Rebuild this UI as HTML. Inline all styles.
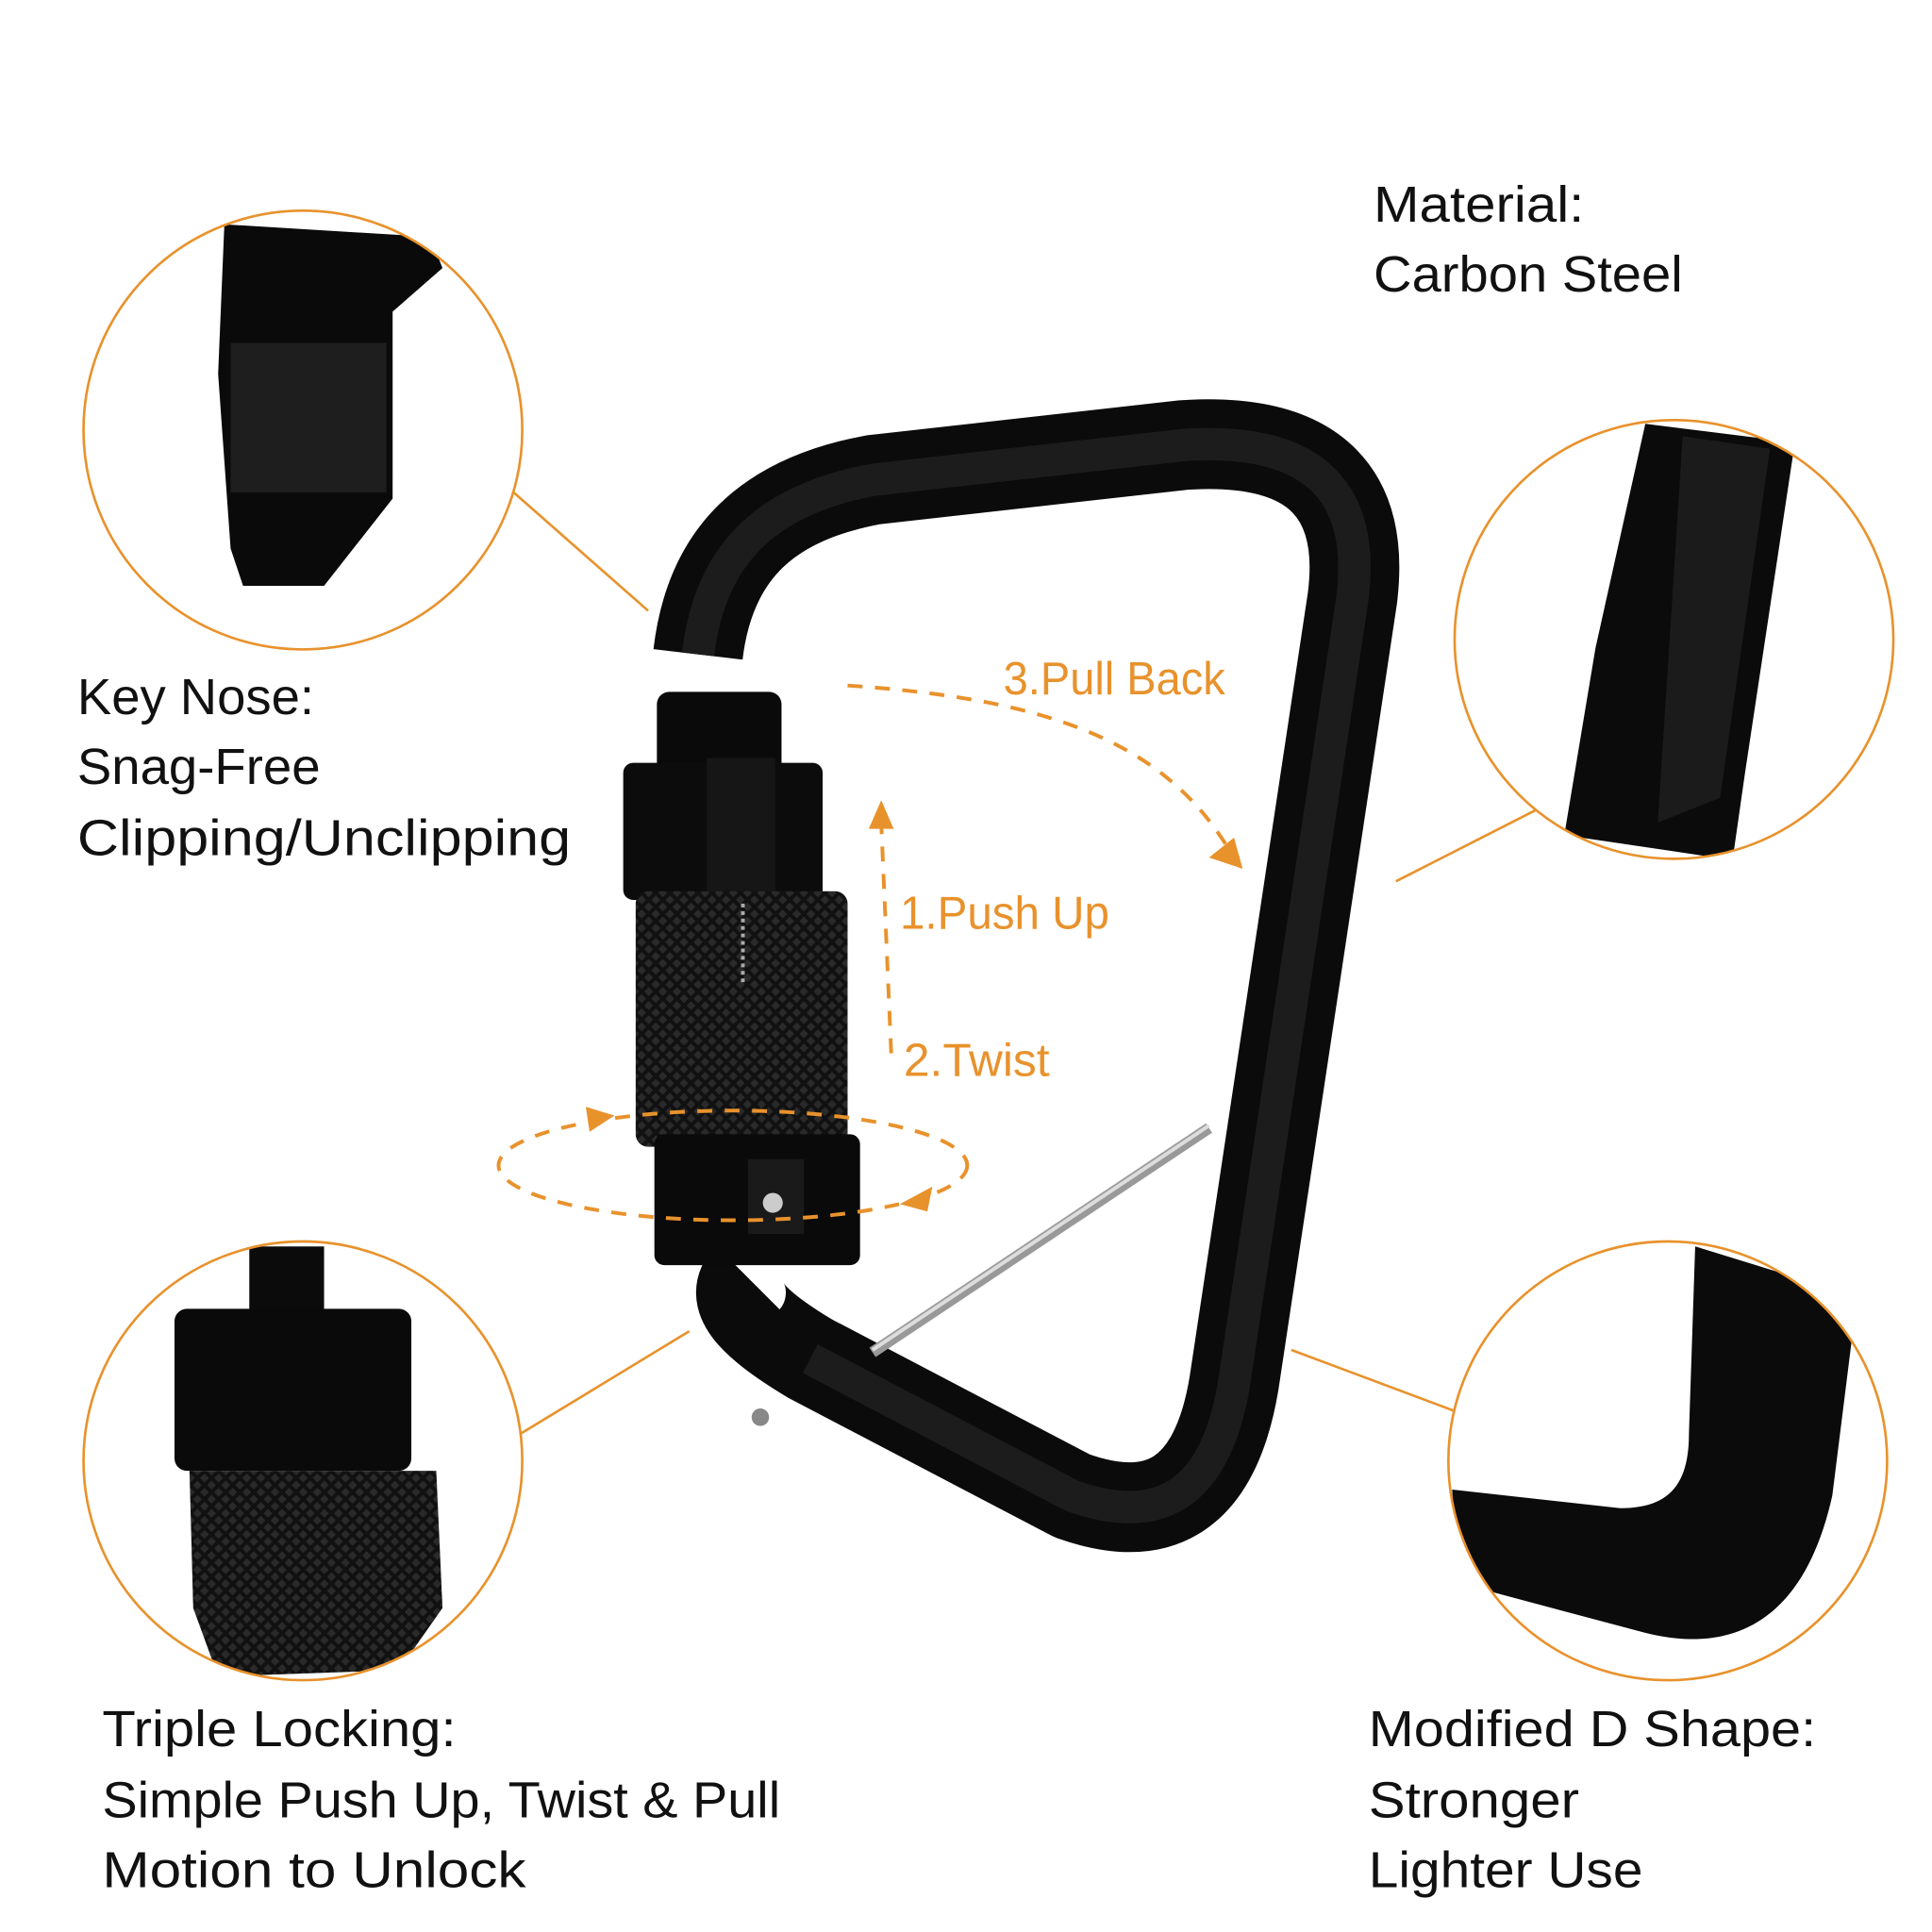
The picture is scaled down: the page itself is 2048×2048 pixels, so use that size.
<!DOCTYPE html>
<html><head><style>html,body{margin:0;padding:0;background:#fff}svg{display:block}</style></head>
<body>
<svg width="2048" height="2048" viewBox="0 0 1550 1550" xmlns="http://www.w3.org/2000/svg" font-family="'Liberation Sans', sans-serif">
<defs>
<pattern id="kn" width="8" height="8" patternUnits="userSpaceOnUse" patternTransform="rotate(45)">
<rect width="8" height="8" fill="#111"/><rect width="5" height="5" fill="#2a2a2a"/></pattern>
<clipPath id="c1"><circle cx="243" cy="345" r="176"/></clipPath>
<clipPath id="c2"><circle cx="1343" cy="513" r="176"/></clipPath>
<clipPath id="c3"><circle cx="243" cy="1172" r="176"/></clipPath>
<clipPath id="c4"><circle cx="1338" cy="1172" r="176"/></clipPath>
</defs>
<rect width="1550" height="1550" fill="#fff"/>
<!-- carabiner body -->
<path d="M560 525 C570 440 620 400 700 385 L950 357 C1060 350 1095 400 1085 480 L990 1110 C975 1200 930 1225 860 1200 L650 1090 C600 1060 585 1040 600 1025" fill="none" stroke="#0b0b0b" stroke-width="72" stroke-linejoin="round"/>
<path d="M560 525 C570 440 620 400 700 385 L950 357 C1060 350 1095 400 1085 480 L990 1110 C975 1200 930 1225 860 1200 L650 1090" fill="none" stroke="#1c1c1c" stroke-width="26"/>
<!-- wire -->
<line x1="700" y1="1085" x2="970" y2="905" stroke="#999" stroke-width="9"/>
<line x1="700" y1="1083" x2="970" y2="903" stroke="#ddd" stroke-width="3"/>
<circle cx="610" cy="1137" r="7" fill="#888"/>
<!-- gate -->
<rect x="527" y="555" width="100" height="80" rx="10" fill="#0a0a0a"/>
<rect x="500" y="612" width="160" height="110" rx="8" fill="#0c0c0c"/>
<rect x="567" y="608" width="55" height="115" fill="#161616"/>
<rect x="510" y="715" width="170" height="205" rx="10" fill="url(#kn)"/>
<rect x="525" y="910" width="165" height="105" rx="8" fill="#0a0a0a"/>
<rect x="600" y="930" width="45" height="60" fill="#1a1a1a"/>
<circle cx="620" cy="965" r="8" fill="#ccc"/>
<line x1="596" y1="725" x2="596" y2="790" stroke="#aaa" stroke-width="3" stroke-dasharray="3 3"/>
<!-- orange annotations -->
<g fill="none" stroke="#e8922c" stroke-width="3" stroke-dasharray="12 10">
<path d="M680 550 C830 560 930 590 985 680"/>
<line x1="715" y1="845" x2="707" y2="660"/>
<ellipse cx="588" cy="935" rx="188" ry="44"/>
</g>
<g fill="#e8922c">
<polygon points="997,697 970,688 990,672"/>
<polygon points="707,642 697,665 717,665"/>
<polygon points="493,895 470,888 473,908"/>
<polygon points="722,966 748,952 744,972"/>
</g>
<g fill="#e8922c" font-size="37">
<text x="805" y="557" textLength="178" lengthAdjust="spacingAndGlyphs">3.Pull Back</text>
<text x="722" y="745" textLength="168" lengthAdjust="spacingAndGlyphs">1.Push Up</text>
<text x="725" y="863" textLength="117" lengthAdjust="spacingAndGlyphs">2.Twist</text>
</g>
<!-- callout lines -->
<g stroke="#e8922c" stroke-width="2">
<line x1="412" y1="395" x2="520" y2="490"/>
<line x1="1232" y1="650" x2="1120" y2="707"/>
<line x1="418" y1="1150" x2="553" y2="1068"/>
<line x1="1167" y1="1132" x2="1036" y2="1083"/>
</g>
<!-- detail circles -->
<g clip-path="url(#c1)">
<path d="M180 180 L345 190 L355 215 L315 250 L315 400 L260 470 L195 470 L185 440 L175 300 Z" fill="#0a0a0a"/>
<rect x="185" y="275" width="125" height="120" fill="#1e1e1e"/>
</g>
<g clip-path="url(#c2)">
<path d="M1320 340 L1440 355 L1400 620 L1390 690 L1255 670 L1280 520 Z" fill="#0b0b0b"/>
<path d="M1350 350 L1420 360 L1380 640 L1330 660 Z" fill="#1b1b1b"/>
</g>
<g clip-path="url(#c3)">
<rect x="200" y="1000" width="60" height="180" fill="#0b0b0b"/>
<rect x="140" y="1050" width="190" height="130" rx="10" fill="#0a0a0a"/>
<path d="M152 1180 L350 1180 L355 1290 L320 1340 L175 1345 L155 1290 Z" fill="url(#kn)"/>
</g>
<g clip-path="url(#c4)">
<path d="M1360 1000 L1490 1040 L1470 1200 C1450 1290 1400 1330 1320 1310 L1170 1270 L1165 1195 L1300 1210 C1340 1210 1355 1190 1355 1150 Z" fill="#0b0b0b"/>
</g>
<g fill="none" stroke="#e8922c" stroke-width="2">
<circle cx="243" cy="345" r="176"/>
<circle cx="1343" cy="513" r="176"/>
<circle cx="243" cy="1172" r="176"/>
<circle cx="1338" cy="1172" r="176"/>
</g>
<!-- labels -->
<g fill="#111" font-size="41" lengthAdjust="spacingAndGlyphs">
<text x="62" y="573" textLength="190" lengthAdjust="spacingAndGlyphs">Key Nose:</text>
<text x="62" y="629" textLength="195" lengthAdjust="spacingAndGlyphs">Snag-Free</text>
<text x="62" y="686" textLength="396" lengthAdjust="spacingAndGlyphs">Clipping/Unclipping</text>
<text x="1102" y="178" textLength="169" lengthAdjust="spacingAndGlyphs">Material:</text>
<text x="1102" y="234" textLength="248" lengthAdjust="spacingAndGlyphs">Carbon Steel</text>
<text x="82" y="1401" textLength="284" lengthAdjust="spacingAndGlyphs">Triple Locking:</text>
<text x="82" y="1458" textLength="544" lengthAdjust="spacingAndGlyphs">Simple Push Up, Twist &amp; Pull</text>
<text x="82" y="1514" textLength="340" lengthAdjust="spacingAndGlyphs">Motion to Unlock</text>
<text x="1098" y="1401" textLength="359" lengthAdjust="spacingAndGlyphs">Modified D Shape:</text>
<text x="1098" y="1458" textLength="169" lengthAdjust="spacingAndGlyphs">Stronger</text>
<text x="1098" y="1514" textLength="220" lengthAdjust="spacingAndGlyphs">Lighter Use</text>
</g>
</svg>
</body></html>
